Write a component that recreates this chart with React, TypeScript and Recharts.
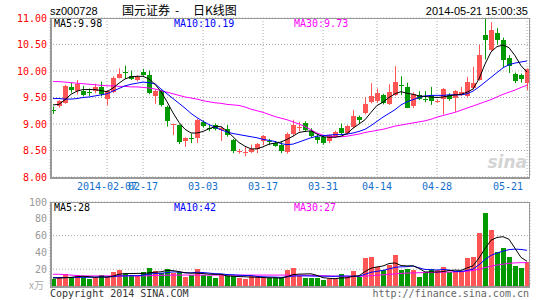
import { ComposedChart, Bar, Line, XAxis, YAxis, CartesianGrid } from "recharts";

// trading days shown on the daily K chart (2014-01-20 .. 2014-05-21)
const dates = [
  "2014-01-20", "2014-01-21", "2014-01-22", "2014-01-23", "2014-01-24", "2014-01-27", "2014-01-28", "2014-01-29", "2014-01-30",
  "2014-02-07", "2014-02-10", "2014-02-11", "2014-02-12", "2014-02-13", "2014-02-14", "2014-02-17", "2014-02-18", "2014-02-19",
  "2014-02-20", "2014-02-21", "2014-02-24", "2014-02-25", "2014-02-26", "2014-02-27", "2014-02-28", "2014-03-03", "2014-03-04",
  "2014-03-05", "2014-03-06", "2014-03-07", "2014-03-10", "2014-03-11", "2014-03-12", "2014-03-13", "2014-03-14", "2014-03-17",
  "2014-03-18", "2014-03-19", "2014-03-20", "2014-03-21", "2014-03-24", "2014-03-25", "2014-03-26", "2014-03-27", "2014-03-28",
  "2014-03-31", "2014-04-01", "2014-04-02", "2014-04-03", "2014-04-04", "2014-04-08", "2014-04-09", "2014-04-10", "2014-04-11",
  "2014-04-14", "2014-04-15", "2014-04-16", "2014-04-17", "2014-04-18", "2014-04-21", "2014-04-22", "2014-04-23", "2014-04-24",
  "2014-04-25", "2014-04-28", "2014-04-29", "2014-04-30", "2014-05-05", "2014-05-06", "2014-05-07", "2014-05-08", "2014-05-09",
  "2014-05-12", "2014-05-13", "2014-05-14", "2014-05-15", "2014-05-16", "2014-05-19", "2014-05-20", "2014-05-21",
];

const opens = [
  9.27, 9.33, 9.40, 9.70, 9.62, 9.63, 9.61, 9.62, 9.69, 9.46,
  9.60, 9.87, 9.98, 9.91, 9.83, 9.99, 9.93, 9.53, 9.62, 9.33,
  8.98, 8.98, 8.67, 8.74, 8.74, 9.04, 8.93, 8.98, 8.90, 8.90,
  8.70, 8.47, 8.47, 8.46, 8.52, 8.67, 8.68, 8.65, 8.60, 8.47,
  8.81, 8.94, 9.01, 8.87, 8.76, 8.76, 8.67, 8.76, 8.92, 8.82,
  8.94, 9.14, 9.21, 9.41, 9.43, 9.55, 9.38, 9.55, 9.73, 9.70,
  9.33, 9.55, 9.48, 9.55, 9.42, 9.48, 9.55, 9.48, 9.55, 9.53,
  9.67, 9.83, 10.67, 10.40, 10.71, 10.58, 10.24, 9.94, 9.92, 9.77,
];
const highs = [
  9.33, 9.45, 9.74, 9.78, 9.83, 9.72, 9.67, 9.76, 9.80, 9.64,
  9.90, 10.05, 10.10, 10.01, 9.92, 10.04, 10.01, 9.65, 9.65, 9.35,
  9.00, 8.99, 8.75, 8.82, 9.10, 9.07, 8.98, 9.01, 8.95, 8.98,
  8.72, 8.53, 8.57, 8.61, 8.64, 8.79, 8.72, 8.68, 8.68, 8.84,
  9.08, 9.04, 9.05, 8.92, 8.81, 8.78, 8.80, 8.87, 9.01, 8.98,
  9.26, 9.16, 9.50, 9.77, 9.67, 9.57, 9.75, 10.09, 9.90, 9.78,
  9.60, 9.62, 9.62, 9.70, 9.46, 9.68, 9.58, 9.64, 9.70, 9.89,
  10.08, 10.49, 11.00, 10.92, 10.81, 10.63, 10.30, 9.97, 9.95, 10.05,
];
const lows = [
  9.19, 9.31, 9.38, 9.59, 9.56, 9.52, 9.53, 9.58, 9.52, 9.35,
  9.58, 9.86, 9.85, 9.83, 9.80, 9.91, 9.56, 9.38, 9.33, 8.95,
  8.79, 8.62, 8.57, 8.64, 8.64, 8.93, 8.86, 8.88, 8.68, 8.76,
  8.45, 8.44, 8.39, 8.45, 8.45, 8.60, 8.60, 8.57, 8.45, 8.44,
  8.77, 8.86, 8.85, 8.75, 8.63, 8.61, 8.64, 8.75, 8.81, 8.80,
  8.92, 9.01, 9.18, 9.39, 9.40, 9.37, 9.36, 9.53, 9.55, 9.30,
  9.30, 9.45, 9.41, 9.36, 9.40, 9.18, 9.44, 9.23, 9.53, 9.50,
  9.65, 9.82, 10.22, 10.38, 10.50, 10.07, 9.96, 9.77, 9.78, 9.64,
];
const closes = [
  9.25, 9.43, 9.72, 9.64, 9.76, 9.55, 9.60, 9.69, 9.56, 9.62,
  9.87, 9.95, 9.97, 9.85, 9.89, 9.93, 9.59, 9.63, 9.35, 9.06,
  9.00, 8.65, 8.73, 8.73, 9.08, 8.96, 8.92, 8.91, 8.93, 8.78,
  8.49, 8.49, 8.48, 8.52, 8.62, 8.77, 8.67, 8.59, 8.48, 8.81,
  8.98, 8.95, 8.88, 8.78, 8.71, 8.65, 8.79, 8.85, 8.83, 8.96,
  9.15, 9.09, 9.38, 9.53, 9.58, 9.40, 9.60, 9.80, 9.72, 9.31,
  9.56, 9.48, 9.47, 9.44, 9.43, 9.66, 9.48, 9.62, 9.60, 9.80,
  9.77, 10.30, 10.57, 10.77, 10.58, 10.21, 10.09, 9.80, 9.84, 10.04,
];

const ma5 = [
  9.36, 9.37, 9.46, 9.56, 9.62, 9.65, 9.65, 9.65, 9.63, 9.61,
  9.68, 9.77, 9.85, 9.89, 9.90, 9.90, 9.85, 9.75, 9.61, 9.42,
  9.21, 9.03, 8.90, 8.83, 8.83, 8.86, 8.91, 8.95, 8.95, 8.87,
  8.76, 8.65, 8.58, 8.53, 8.53, 8.57, 8.62, 8.64, 8.66, 8.71,
  8.77, 8.84, 8.86, 8.87, 8.81, 8.76, 8.75, 8.75, 8.77, 8.82,
  8.92, 9.00, 9.08, 9.22, 9.35, 9.41, 9.50, 9.57, 9.61, 9.58,
  9.56, 9.53, 9.52, 9.51, 9.50, 9.51, 9.53, 9.55, 9.56, 9.60,
  9.66, 9.85, 10.13, 10.36, 10.46, 10.49, 10.44, 10.29, 10.10, 9.98,
];
const ma10 = [
  9.48, 9.48, 9.47, 9.47, 9.48, 9.50, 9.51, 9.53, 9.55, 9.57,
  9.62, 9.67, 9.72, 9.75, 9.77, 9.79, 9.78, 9.76, 9.66, 9.57,
  9.48, 9.39, 9.30, 9.20, 9.12, 9.05, 8.99, 8.94, 8.89, 8.85,
  8.82, 8.80, 8.78, 8.76, 8.74, 8.71, 8.69, 8.67, 8.63, 8.61,
  8.62, 8.66, 8.70, 8.74, 8.77, 8.78, 8.79, 8.80, 8.80, 8.81,
  8.83, 8.86, 8.90, 8.97, 9.05, 9.13, 9.20, 9.27, 9.36, 9.42,
  9.46, 9.50, 9.53, 9.54, 9.54, 9.54, 9.55, 9.55, 9.55, 9.57,
  9.62, 9.70, 9.79, 9.88, 9.97, 10.06, 10.12, 10.15, 10.17, 10.19,
];
const ma30 = [
  9.80, 9.80, 9.79, 9.78, 9.77, 9.76, 9.75, 9.74, 9.73, 9.72,
  9.72, 9.71, 9.71, 9.70, 9.70, 9.69, 9.68, 9.66, 9.63, 9.60,
  9.57, 9.54, 9.51, 9.49, 9.47, 9.44, 9.42, 9.40, 9.39, 9.37,
  9.36, 9.35, 9.32, 9.28, 9.25, 9.22, 9.18, 9.14, 9.11, 9.08,
  9.04, 9.00, 8.95, 8.89, 8.83, 8.79, 8.77, 8.76, 8.76, 8.77,
  8.79, 8.81, 8.84, 8.86, 8.88, 8.90, 8.93, 8.96, 8.98, 9.00,
  9.02, 9.04, 9.06, 9.09, 9.13, 9.16, 9.19, 9.22, 9.26, 9.30,
  9.34, 9.38, 9.42, 9.46, 9.51, 9.56, 9.60, 9.64, 9.69, 9.73,
];

// volume, 万手
const volumes = [
  8.0, 10.3, 13.9, 10.3, 13.1, 10.3, 8.0, 10.0, 13.1, 11.1,
  17.0, 19.0, 14.0, 13.1, 12.0, 17.0, 21.8, 18.0, 15.5, 20.6,
  15.5, 16.3, 11.1, 13.1, 20.6, 13.1, 12.5, 10.0, 13.1, 11.5,
  11.5, 10.0, 8.7, 11.5, 10.7, 9.5, 9.0, 9.0, 9.0, 19.0,
  21.4, 12.0, 10.0, 10.0, 10.0, 7.6, 8.0, 8.0, 14.3, 10.3,
  17.9, 10.3, 33.0, 34.5, 22.5, 18.7, 25.0, 36.9, 19.0, 20.0,
  19.0, 10.3, 15.1, 19.8, 18.7, 22.2, 16.1, 17.9, 18.3, 33.0,
  34.5, 62.7, 87.3, 67.0, 40.9, 45.6, 34.9, 23.8, 21.0, 29.0,
];
const vma5 = [
  9.5, 9.5, 9.8, 10.2, 11.1, 11.6, 11.1, 10.3, 10.9, 10.5,
  11.8, 14.0, 14.8, 14.8, 15.0, 15.0, 15.6, 16.4, 16.9, 18.6,
  18.3, 17.2, 15.8, 15.3, 15.3, 14.8, 14.1, 13.9, 13.9, 12.0,
  11.7, 11.2, 11.0, 10.6, 10.5, 10.1, 9.8, 9.8, 9.4, 11.1,
  13.5, 14.1, 14.3, 14.5, 12.7, 9.9, 9.1, 8.7, 9.6, 9.7,
  11.7, 12.2, 17.2, 21.2, 22.7, 23.8, 26.7, 27.5, 24.4, 23.9,
  24.0, 21.0, 16.7, 16.8, 16.6, 17.2, 18.4, 18.9, 18.6, 21.5,
  24.0, 33.3, 44.5, 54.5, 57.8, 58.7, 55.6, 44.8, 34.0, 29.5,
];
const vma10 = [
  10.0, 10.0, 10.1, 10.2, 10.3, 10.4, 10.4, 10.5, 10.7, 10.8,
  11.1, 12.0, 12.0, 12.3, 12.2, 12.9, 14.1, 14.9, 15.1, 15.9,
  16.8, 16.5, 15.7, 15.6, 16.4, 16.0, 15.4, 14.6, 14.4, 13.6,
  13.3, 12.8, 12.5, 12.4, 11.4, 11.0, 10.7, 10.6, 10.2, 10.9,
  11.8, 12.0, 12.0, 11.9, 11.6, 11.7, 11.6, 11.5, 11.9, 11.9,
  11.6, 11.6, 13.9, 16.3, 17.5, 18.6, 20.3, 22.3, 22.8, 23.0,
  23.9, 21.6, 19.7, 19.3, 19.0, 19.7, 19.0, 17.3, 17.2, 18.6,
  20.1, 25.3, 31.5, 36.5, 39.2, 41.5, 43.3, 43.9, 43.5, 42.5,
];
const vma30 = [
  14.0, 14.0, 13.5, 13.0, 12.5, 12.0, 12.0, 12.0, 12.0, 12.0,
  12.0, 12.0, 12.0, 12.0, 12.0, 12.0, 12.2, 12.5, 12.7, 12.8,
  13.0, 13.0, 13.0, 13.0, 13.0, 13.0, 13.0, 13.0, 13.0, 13.0,
  13.0, 13.0, 13.0, 13.0, 13.0, 13.0, 13.0, 13.0, 13.0, 13.0,
  13.0, 13.0, 12.8, 12.6, 12.4, 12.2, 12.0, 11.8, 11.6, 11.5,
  11.5, 11.6, 11.8, 12.3, 12.8, 13.3, 13.8, 14.5, 15.0, 15.3,
  15.6, 15.8, 16.0, 16.1, 16.2, 16.4, 16.6, 16.8, 17.0, 17.5,
  18.5, 20.0, 22.0, 23.5, 25.0, 26.0, 27.0, 27.5, 27.8, 27.8,
];

const dateTicks = ["2014-02-07", "2014-02-17", "2014-03-03", "2014-03-17", "2014-03-31", "2014-04-14", "2014-04-28", "2014-05-21"];
const priceTicks = [8, 8.5, 9, 9.5, 10, 10.5, 11];
const volumeTicks = [20, 40, 60, 80, 100];

const RED = "#ff5555";
const GREEN = "#009900";
const MONO = "DejaVu Sans Mono, monospace";

const rows = dates.map((d, i) => ({
  date: d,
  range: [lows[i], highs[i]],
  open: opens[i],
  high: highs[i],
  low: lows[i],
  close: closes[i],
  ma5: ma5[i],
  ma10: ma10[i],
  ma30: ma30[i],
  vol: volumes[i],
  vma5: vma5[i],
  vma10: vma10[i],
  vma30: vma30[i],
}));

function Candle(props: any) {
  const { x, y, width, height, payload } = props;
  if (x == null || !payload) return null;
  const top = Math.min(y, y + height);
  const h = Math.abs(height);
  const { open, close, high, low } = payload;
  const k = high - low > 0 ? h / (high - low) : 0;
  const color = close >= open ? RED : GREEN;
  const bodyTop = top + (high - Math.max(open, close)) * k;
  const bodyH = Math.max(1, Math.abs(close - open) * k);
  const left = Math.round(x);
  const cx = left + 2.5;
  return (
    <g>
      <line x1={cx} x2={cx} y1={top} y2={top + h} stroke={color} strokeWidth={1} />
      <rect x={left} y={Math.round(bodyTop)} width={5} height={Math.max(1, Math.round(bodyH))} fill={color} />
    </g>
  );
}

function VolBar(props: any) {
  const { x, y, height, payload } = props;
  if (x == null || !payload) return null;
  const color = payload.close >= payload.open ? RED : GREEN;
  return <rect x={Math.round(x)} y={Math.round(y)} width={5} height={Math.round(height)} fill={color} />;
}

function DateTick(props: any) {
  const { x, y, payload } = props;
  const v: string = payload.value;
  const last = v === dates[dates.length - 1];
  const label = v === dateTicks[0] ? v : v.slice(5);
  return (
    <text
      x={last ? x - 4 : x}
      y={y}
      dy="0.71em"
      textAnchor={last ? "end" : "middle"}
      fill="#1470cc"
      fontSize={10}
      fontFamily={MONO}
    >
      {label}
    </text>
  );
}

const box = (top: number, height: number): React.CSSProperties => ({
  position: "absolute",
  left: 50,
  top,
  width: 480,
  height,
  boxSizing: "border-box",
  border: "1px solid #999",
  borderLeft: "2px solid #999",
  borderBottom: "2px solid #999",
  pointerEvents: "none",
});

export default function App() {
  return (
    <div style={{ position: "absolute", left: 0, top: 0, width: 545, height: 300, background: "#fff" }}>
      <div style={{ position: "absolute", left: 0, top: 0 }}>
        <ComposedChart width={545} height={193} data={rows} margin={{ top: 18, right: 15, bottom: 0, left: 0 }}>
          <CartesianGrid stroke="#aaa" strokeDasharray="1 2" />
          <XAxis
            dataKey="date"
            ticks={dateTicks}
            interval={0}
            height={16}
            tick={<DateTick />}
            tickLine={false}
            axisLine={false}
            tickSize={0}
            tickMargin={6}
          />
          <YAxis
            domain={[8, 11]}
            ticks={priceTicks}
            allowDataOverflow
            width={50}
            tickLine={false}
            axisLine={false}
            tickSize={3}
            tickMargin={0}
            tickFormatter={(v: number) => v.toFixed(2)}
            tick={{ fill: "#ff0000", fontSize: 10, fontFamily: MONO }}
          />
          <Bar dataKey="range" barSize={5} shape={(p: any) => <Candle {...p} />} isAnimationActive={false} />
          <Line dataKey="ma30" stroke="#ff00ff" strokeWidth={1} dot={false} isAnimationActive={false} />
          <Line dataKey="ma10" stroke="#0000ff" strokeWidth={1} dot={false} isAnimationActive={false} />
          <Line dataKey="ma5" stroke="#000000" strokeWidth={1} dot={false} isAnimationActive={false} />
        </ComposedChart>
      </div>
      <div style={{ position: "absolute", left: 0, top: 190 }}>
        <ComposedChart width={545} height={96} data={rows} margin={{ top: 12, right: 15, bottom: 0, left: 0 }}>
          <CartesianGrid stroke="#aaa" strokeDasharray="1 2" />
          <XAxis dataKey="date" ticks={dateTicks} interval={0} height={0} tick={false} tickLine={false} axisLine={false} />
          <YAxis
            domain={[0, 100]}
            ticks={volumeTicks}
            allowDataOverflow
            width={50}
            tickLine={false}
            axisLine={false}
            tickSize={3}
            tickMargin={0}
            tick={{ fill: "#999", fontSize: 10, fontFamily: MONO }}
          />
          <Bar dataKey="vol" barSize={5} shape={(p: any) => <VolBar {...p} />} isAnimationActive={false} />
          <Line dataKey="vma30" stroke="#ff00ff" strokeWidth={1} dot={false} isAnimationActive={false} />
          <Line dataKey="vma10" stroke="#0000ff" strokeWidth={1} dot={false} isAnimationActive={false} />
          <Line dataKey="vma5" stroke="#000000" strokeWidth={1} dot={false} isAnimationActive={false} />
        </ComposedChart>
      </div>
      <div style={box(18, 161)} />
      <div style={box(202, 86)} />
      <svg width={545} height={300} style={{ position: "absolute", left: 0, top: 0, pointerEvents: "none" }}>
        <text x={50} y={15} fontSize={11} fontFamily="Liberation Sans, Arial, sans-serif" fill="#000">sz000728</text>
        <text x={122} y={15} fontSize={12} fontFamily="Noto Sans CJK SC, sans-serif" fill="#000">国元证券</text>
        <text x={175} y={15} fontSize={12} fontFamily="Noto Sans CJK SC, sans-serif" fill="#000">-</text>
        <text x={193} y={15} fontSize={12} fontFamily="Noto Sans CJK SC, sans-serif" fill="#000">日K线图</text>
        <text x={528} y={15} textAnchor="end" fontSize={11} fontFamily="Liberation Sans, Arial, sans-serif" fill="#000">
          2014-05-21 15:00:35
        </text>
        <text x={54} y={27} fontSize={10} fontFamily={MONO} fill="#000">MA5:9.98</text>
        <text x={174} y={27} fontSize={10} fontFamily={MONO} fill="#0000ff">MA10:10.19</text>
        <text x={294} y={27} fontSize={10} fontFamily={MONO} fill="#ff00ff">MA30:9.73</text>
        <text x={54} y={211} fontSize={10} fontFamily={MONO} fill="#000">MA5:28</text>
        <text x={174} y={211} fontSize={10} fontFamily={MONO} fill="#0000ff">MA10:42</text>
        <text x={294} y={211} fontSize={10} fontFamily={MONO} fill="#ff00ff">MA30:27</text>
        <text x={44} y={289} textAnchor="end" fontSize={10} fontFamily="Noto Sans CJK SC, sans-serif" fill="#aaa">x万</text>
        <text x={527} y={168} textAnchor="end" fontSize={17} fontWeight="bold" fontStyle="italic" fontFamily="DejaVu Sans, sans-serif" fill="#d4d4d4">
          sina
        </text>
        <text x={50} y={297} fontSize={10} fontFamily={MONO} fill="#333">Copyright 2014 SINA.COM</text>
        <text x={529} y={297} textAnchor="end" fontSize={10} fontFamily={MONO} fill="#666">http://finance.sina.com.cn</text>
      </svg>
    </div>
  );
}
